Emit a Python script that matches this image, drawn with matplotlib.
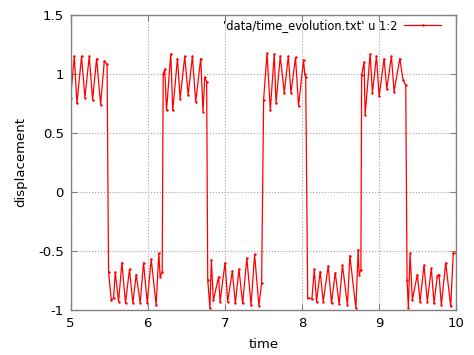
import matplotlib.pyplot as plt

# vertices (time, displacement)
time = [5.000, 5.048, 5.082, 5.142, 5.185, 5.242, 5.285, 5.337, 5.389, 5.437, 5.473,
        5.492, 5.527, 5.557, 5.579, 5.622, 5.665, 5.712, 5.764, 5.807, 5.851, 5.903,
        5.946, 5.994, 6.045, 6.110, 6.144, 6.162, 6.188,
        6.201, 6.221, 6.244, 6.299, 6.325, 6.386, 6.421, 6.481, 6.525, 6.580, 6.623,
        6.688, 6.718, 6.740, 6.765,
        6.779, 6.807, 6.826, 6.852, 6.920, 6.939, 7.004, 7.038, 7.098, 7.137, 7.184,
        7.232, 7.286, 7.341, 7.387, 7.443, 7.478,
        7.504, 7.548, 7.591, 7.642, 7.665, 7.720, 7.772, 7.824, 7.859, 7.918, 7.957,
        8.022, 8.037, 8.050,
        8.076, 8.131, 8.161, 8.191, 8.238, 8.277, 8.342, 8.385, 8.433, 8.484, 8.527,
        8.592, 8.623, 8.701, 8.731, 8.744, 8.766,
        8.776, 8.808, 8.821, 8.886, 8.916, 8.968, 9.003, 9.067, 9.102, 9.162, 9.197,
        9.271, 9.313, 9.348,
        9.365, 9.382, 9.404, 9.434, 9.499, 9.534, 9.585, 9.628, 9.680, 9.715, 9.758,
        9.780, 9.810, 9.867, 9.931, 9.965, 10.000]
displacement = [0.80, 1.15, 0.75, 1.15, 0.80, 1.15, 0.78, 1.13, 0.74, 1.11, 1.08,
                -0.675, -0.915, -0.90, -0.68, -0.93, -0.60, -0.94, -0.655, -0.94, -0.70, -0.94,
                -0.60, -0.94, -0.57, -0.96, -0.52, -0.72, -0.675,
                1.00, 1.04, 0.69, 1.17, 0.69, 1.13, 0.79, 1.15, 0.82, 1.15, 0.765,
                1.13, 0.68, 0.97, 0.935,
                -0.745, -0.985, -0.575, -0.92, -0.72, -0.93, -0.60, -0.93, -0.67, -0.945, -0.655,
                -0.945, -0.56, -0.96, -0.53, -0.965, -0.77,
                0.78, 1.175, 0.695, 1.17, 0.75, 1.15, 0.84, 1.15, 0.84, 1.14, 0.73,
                1.12, 1.00, 0.97,
                -0.90, -0.905, -0.655, -0.93, -0.675, -0.93, -0.627, -0.945, -0.684, -0.95, -0.62,
                -0.96, -0.54, -0.985, -0.49, -0.70, -0.66,
                0.99, 1.10, 0.65, 1.17, 0.84, 1.15, 0.81, 1.13, 0.87, 1.15, 0.85,
                1.13, 0.95, 0.905,
                -0.745, -0.985, -0.52, -0.915, -0.70, -0.93, -0.62, -0.93, -0.647, -0.945, -0.71,
                -0.70, -0.96, -0.60, -0.97, -0.52, -0.52]

xticks = [5, 6, 7, 8, 9, 10]
yticks = [-1, -0.5, 0, 0.5, 1, 1.5]
ytick_labels = ['-1', '-0.5', '0', '0.5', '1', '1.5']

plt.rcParams['font.family'] = ['DejaVu Sans']
fig = plt.figure(figsize=(4.74, 3.55), dpi=100)
ax = fig.add_axes([0.149, 0.127, 0.813, 0.831])

ax.plot(time, displacement, color='#ff0000', linewidth=0.9, marker='.', markersize=1.5,
        label="'data/time_evolution.txt' u 1:2")

ax.set_xlim(5, 10)
ax.set_ylim(-1, 1.5)
ax.set_xticks(xticks)
ax.set_xticklabels([str(t) for t in xticks])
ax.set_yticks(yticks)
ax.set_yticklabels(ytick_labels)
ax.tick_params(direction='in', top=True, right=True, length=4, width=0.8,
               color='#808080', labelsize=9.5, pad=5)
ax.grid(True, linestyle=':', color='#a0a0a0', linewidth=0.8)
for s in ax.spines.values():
    s.set_color('#808080')
    s.set_linewidth(1.0)

ax.set_xlabel('time', fontsize=9.5, labelpad=6)
ax.set_ylabel('displacement', fontsize=9.5, labelpad=8)

ax.legend(loc='upper right', bbox_to_anchor=(0.973, 1.0), frameon=False,
          markerfirst=False, fontsize=8.3, handlelength=3.2, borderaxespad=0,
          handletextpad=0.6)

fig.savefig('out.png', dpi=100)
